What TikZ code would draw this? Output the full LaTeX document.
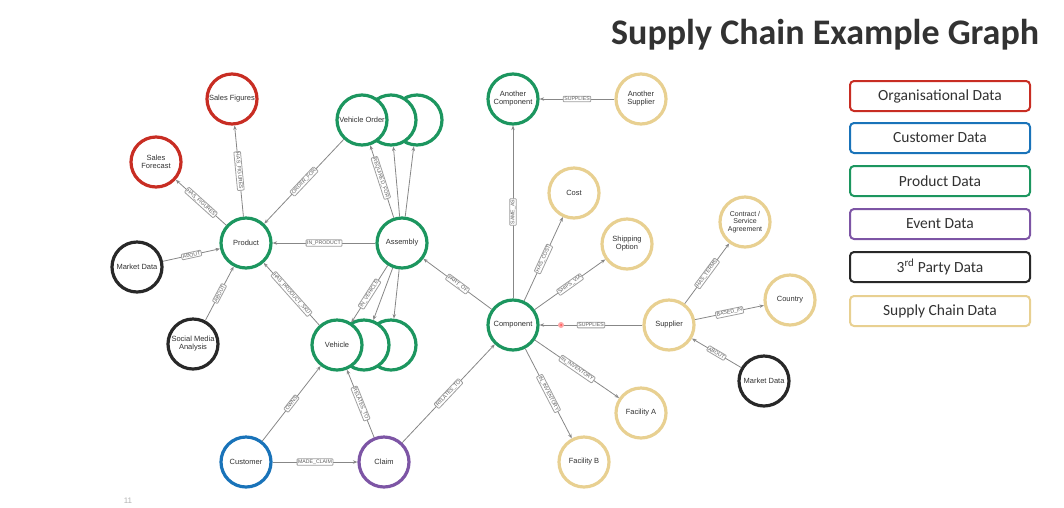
\documentclass[tikz,border=0pt]{standalone}
\usepackage{fontspec}
\setmainfont{Liberation Sans}
\newfontfamily\calfont{Carlito}
\usetikzlibrary{arrows.meta}
\definecolor{cred}{RGB}{200,45,35}
\definecolor{cblue}{RGB}{25,115,185}
\definecolor{cgreen}{RGB}{28,150,95}
\definecolor{cpurple}{RGB}{125,85,165}
\definecolor{cblack}{RGB}{40,40,40}
\definecolor{cyel}{RGB}{232,208,145}
\definecolor{edgec}{RGB}{135,135,135}
\definecolor{txt}{RGB}{50,50,50}
\tikzset{
 ent/.style={circle, draw, line width=3.2pt, fill=white, minimum size=50pt, inner sep=0pt, align=center, font=\fontsize{7.5}{8}\selectfont, text=txt},
 orgn/.style={ent, draw=cred},
 cust/.style={ent, draw=cblue},
 prodn/.style={ent, draw=cgreen},
 evnt/.style={ent, draw=cpurple},
 third/.style={ent, draw=cblack},
 supc/.style={ent, draw=cyel},
 rel/.style={draw=edgec, line width=0.8pt, -{Stealth[length=4.5pt,width=3.5pt]}},
 lab/.style={draw=edgec!80, fill=white, rounded corners=0.8pt, inner sep=1pt, font=\fontsize{5.2}{5.5}\selectfont, text=edgec!70!black, sloped, pos=0.5},
 leg/.style={draw, rounded corners=4pt, line width=2pt, minimum width=180pt, minimum height=30pt, font=\calfont\fontsize{15.5}{16}\selectfont, text=txt, fill=white}
}
\begin{document}
\begin{tikzpicture}[x=1pt,y=-1pt]
\useasboundingbox (0,0) rectangle (1064,507);
% title
\node[anchor=west, inner sep=0pt, font=\calfont\bfseries\fontsize{36}{40}\selectfont, text=txt] (title) at (611,35) {Supply Chain Example Graph};
% legend
\node[leg, draw=cred] (l1) at (940,96) {Organisational Data};
\node[leg, draw=cblue] (l2) at (940,138) {Customer Data};
\node[leg, draw=cgreen] (l3) at (940,181) {Product Data};
\node[leg, draw=cpurple] (l4) at (940,224) {Event Data};
\node[leg, draw=cblack] (l5) at (940,267) {3\textsuperscript{rd} Party Data};
\node[leg, draw=cyel] (l6) at (940,311) {Supply Chain Data};
% nodes
\node[orgn] (sfig) at (232,99) {Sales Figures};
\node[orgn] (sfc) at (156,162) {Sales\\Forecast};
\node[third] (mkl) at (137,267) {Market Data};
\node[prodn] (prod) at (246,243) {Product};
\node[third] (sma) at (193,344) {Social Media\\Analysis};
\node[prodn] (vo3) at (417,120) {};
\node[prodn] (vo2) at (391,120) {};
\node[prodn] (vo) at (362,120) {Vehicle Order};
\node[prodn] (asm) at (402,243) {Assembly};
\node[prodn] (ve3) at (391,345) {};
\node[prodn] (ve2) at (364,345) {};
\node[prodn] (ve) at (337,345) {Vehicle};
\node[cust] (cus) at (246,462) {Customer};
\node[evnt] (clm) at (384,462) {Claim};
\node[prodn] (cmp) at (513,325) {Component};
\node[prodn] (acmp) at (513,99) {Another\\Component};
\node[supc] (asup) at (641,99) {Another\\Supplier};
\node[supc] (cost) at (574,193) {Cost};
\node[supc] (ship) at (627,244) {Shipping\\Option};
\node[supc] (sup) at (669,325) {Supplier};
\node[supc, font=\fontsize{7}{7.5}\selectfont] (con) at (745,222) {Contract /\\Service\\Agreement};
\node[supc] (cty) at (790,300) {Country};
\node[third] (mkr) at (764,381) {Market Data};
\node[supc] (fa) at (641,413) {Facility A};
\node[supc] (fb) at (584,462) {Facility B};
% edges
\draw[rel] (prod) -- node[lab]{HAS\_FIGURES} (sfig);
\draw[rel] (prod) -- node[lab]{HAS\_FIGURES} (sfc);
\draw[rel] (mkl) -- node[lab]{ABOUT} (prod);
\draw[rel] (sma) -- node[lab]{ABOUT} (prod);
\draw[rel] (vo) -- node[lab]{ORDER\_FOR} (prod);
\draw[rel] (asm) -- node[lab]{IN\_PRODUCT} (prod);
\draw[rel] (ve) -- node[lab]{HAS\_PRODUCT\_SKU} (prod);
\draw[rel] (asm) -- node[lab, pos=0.55]{REQUIRED\_FOR} (vo);
\draw[rel] (asm) -- (vo2);
\draw[rel] (asm) -- (vo3);
\draw[rel] (asm) -- node[lab]{IN\_VEHICLE} (ve);
\draw[rel] (asm) -- (ve2);
\draw[rel] (asm) -- (ve3);
\draw[rel] (cmp) -- node[lab]{PART\_OF} (asm);
\draw[rel] (cus) -- node[lab]{OWNS} (ve);
\draw[rel] (clm) -- node[lab]{RELATES\_TO} (ve);
\draw[rel] (clm) -- node[lab]{RELATES\_TO} (cmp);
\draw[rel] (cus) -- node[lab]{MADE\_CLAIM} (clm);
\draw[rel] (cmp) -- node[lab]{SAME\_AS} (acmp);
\draw[rel] (asup) -- node[lab]{SUPPLIES} (acmp);
\draw[rel] (cmp) -- node[lab]{HAS\_COST} (cost);
\draw[rel] (cmp) -- node[lab]{SHIPS\_VIA} (ship);
\draw[rel] (sup) -- node[lab]{SUPPLIES} (cmp);
\draw[rel] (cmp) -- node[lab]{IN\_INVENTORY} (fa);
\draw[rel] (cmp) -- node[lab]{IN\_INVENTORY} (fb);
\draw[rel] (sup) -- node[lab]{HAS\_TERMS} (con);
\draw[rel] (sup) -- node[lab]{BASED\_IN} (cty);
\draw[rel] (mkr) -- node[lab]{ABOUT} (sup);
% red marker on SUPPLIES edge
\node[circle, fill=red!35, inner sep=0pt, minimum size=6pt] (mark) at (561,325) {};
\node[circle, fill=red!70, inner sep=0pt, minimum size=2pt] (markc) at (mark.center) {};
% page number
\node[text=black!30, font=\fontsize{8}{8}\selectfont, inner sep=0pt] (pg) at (128,501) {11};
\end{tikzpicture}
\end{document}
